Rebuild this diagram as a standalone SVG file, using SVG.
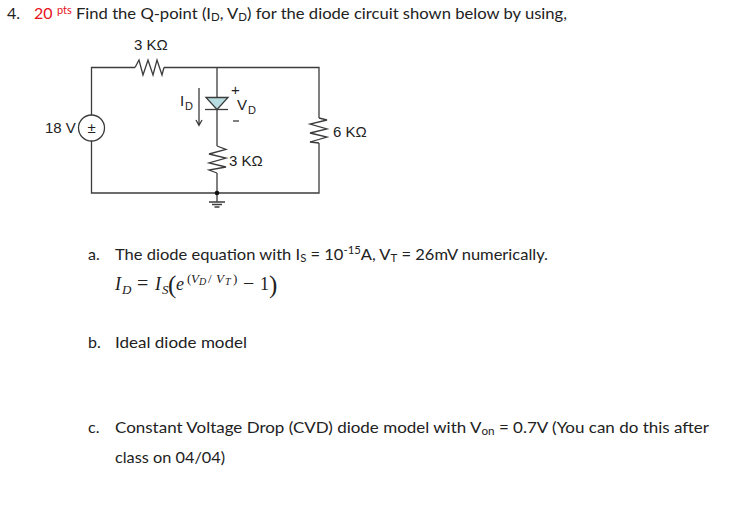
<svg xmlns="http://www.w3.org/2000/svg" width="741" height="519" viewBox="0 0 741 519">
<style>
.t{font-family:Lato,"Open Sans",sans-serif;font-size:16px;fill:#222}
.s{font-size:11px}
.r{fill:#e8101c}
.c{font-family:"Liberation Sans",Arial,sans-serif;font-size:15px;fill:#222}
.d{font-size:11px}
.w{fill:none;stroke:#3c3c3c;stroke-width:1.3}
.m{font-family:"Liberation Serif",serif;font-size:18px;fill:#222}
.i{font-style:italic}
.b{font-size:13px}
.o{font-size:20px}
.x{font-size:13px}
.y{font-size:10px}
.p{font-size:25px;font-weight:300}
</style>
<rect width="741" height="519" fill="#fff"/>
<g id="question">
<text class="t" x="7" y="19">4.</text>
<text class="t r" x="34" y="19">20</text>
<text class="t s r" x="57" y="14">pts</text>
<text class="t" x="76" y="19" textLength="491" lengthAdjust="spacingAndGlyphs">Find the Q-point (I<tspan class="s" dy="2">D</tspan><tspan dy="-2">, V</tspan><tspan class="s" dy="2">D</tspan><tspan dy="-2">) for the diode circuit shown below by using,</tspan></text>
</g>
<g id="connectors">
<path class="w" d="M135 67.500H91.500V115M91.500 141V193H319V143M319 118V67.500H164M217 67.500V97.500M217 109.500V146M217 173V202"/>
</g>
<g id="resistor-top">
<path class="w" d="M135 67.500L139 60L143 75L148 60L153 75L157 60L162 75L164 67.500"/>
<text class="c" x="134" y="50">3 KΩ</text>
</g>
<g id="source">
<circle class="w" cx="91.500" cy="128" r="13"/>
<text class="c" x="91.500" y="133" text-anchor="middle">±</text>
<text class="c" x="45" y="133">18 V</text>
</g>
<g id="diode">
<path d="M206 97.500H228L217 109.500Z" fill="#b8dde0" stroke="#3c3c3c" stroke-width="1.300"/>
<path class="w" d="M205 109.500H228"/>
<text class="c" x="231" y="95">+</text>
<text class="c" x="237" y="110">V</text>
<text class="c d" x="248" y="114">D</text>
<path class="w" d="M233 121H239"/>
<text class="c" x="180" y="106">I</text>
<text class="c d" x="185" y="110">D</text>
<path class="w" d="M199 88V125M196 120L199 125.500L202 120"/>
</g>
<g id="resistor-middle">
<path class="w" d="M217 146L226 149.500L209 154L226 158L209 163L226 167L209 170L217 173"/>
<text class="c" x="229" y="166">3 KΩ</text>
</g>
<g id="resistor-right">
<path class="w" d="M319 118L327 120L310 124L327 129L310 133L327 137L310 142L319 143"/>
<text class="c" x="333" y="137">6 KΩ</text>
</g>
<g id="ground">
<circle cx="217" cy="193" r="2.300" fill="#111"/>
<path class="w" d="M209 202H225M212 204.500H222M214.500 207H219.500"/>
</g>
<g id="part-a">
<text class="t" x="88" y="260">a.</text>
<text class="t" x="115" y="260" textLength="433" lengthAdjust="spacingAndGlyphs">The diode equation with I<tspan class="s" dy="2">S</tspan><tspan dy="-2"> = 10</tspan><tspan class="s" dy="-6">-15</tspan><tspan dy="6">A, V</tspan><tspan class="s" dy="2">T</tspan><tspan dy="-2"> = 26mV numerically.</tspan></text>
<text class="m i" x="115" y="290">I</text>
<text class="m i b" x="122" y="294">D</text>
<text class="m o" x="137" y="290">=</text>
<text class="m i" x="155" y="290">I</text>
<text class="m i b" x="162" y="294">S</text>
<text class="m p" x="168" y="293">(</text>
<text class="m i" x="176" y="290">e</text>
<text class="m x" x="187" y="283">(</text>
<text class="m i x" x="191" y="283">V</text>
<text class="m i y" x="199" y="285">D</text>
<text class="m x" x="208" y="283">/</text>
<text class="m i x" x="216" y="283">V</text>
<text class="m i y" x="225" y="285">T</text>
<text class="m x" x="233" y="283">)</text>
<text class="m o" x="243" y="290">−</text>
<text class="m" x="260" y="290">1</text>
<text class="m p" x="269" y="293">)</text>
</g>
<g id="part-b">
<text class="t" x="88" y="348">b.</text>
<text class="t" x="115" y="348" textLength="132" lengthAdjust="spacingAndGlyphs">Ideal diode model</text>
</g>
<g id="part-c">
<text class="t" x="88" y="433">c.</text>
<text class="t" x="115" y="433" textLength="594" lengthAdjust="spacingAndGlyphs">Constant Voltage Drop (CVD) diode model with V<tspan class="s" dy="2">on</tspan><tspan dy="-2"> = 0.7V (You can do this after</tspan></text>
<text class="t" x="115" y="463" textLength="110" lengthAdjust="spacingAndGlyphs">class on 04/04)</text>
</g>
</svg>
